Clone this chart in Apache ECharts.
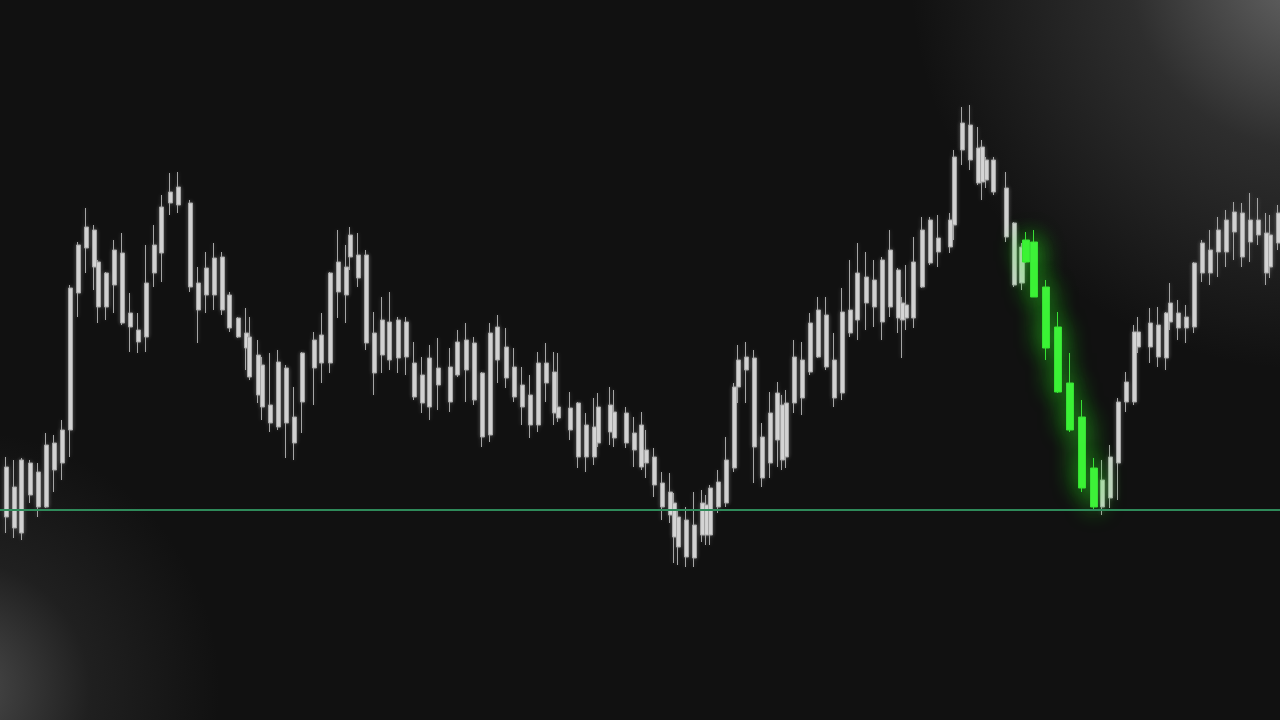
<!DOCTYPE html>
<html>
<head>
<meta charset="utf-8">
<script src="https://cdn.jsdelivr.net/npm/echarts@6/dist/echarts.min.js"></script>
<style>
html,body{margin:0;padding:0;width:1280px;height:720px;overflow:hidden;}
body{
  background:
    radial-gradient(circle at 1310px -30px, rgba(175,175,175,0.55) 0px, rgba(120,120,120,0.28) 180px, rgba(17,17,17,0) 400px),
    radial-gradient(circle at -40px 690px, rgba(150,150,150,0.45) 0px, rgba(90,90,90,0.2) 130px, rgba(17,17,17,0) 260px),
    #111111;
}
#chart{width:1280px;height:720px;}
</style>
</head>
<body>
<div id="chart"></div>
<script>
// time slots (bar index on a fine time grid)
const slotCount = 320;
const greySlot = [1,3,5,7,9,11,13,15,17,19,21,23,24,26,28,30,32,34,36,38,40,42,44,47,49,51,53,55,57,59,61,62,64,65,67,69,71,73,75,78,80,82,84,86,87,89,91,93,95,97,99,101,103,105,107,109,112,114,116,118,120,122,124,126,128,130,132,134,136,138,139,142,144,146,148,149,152,153,156,158,160,161,163,165,167,168,169,171,173,175,176,177,179,181,183,184,186,188,190,192,194,195,196,198,200,202,204,206,208,210,212,214,216,218,220,222,224,225,226,228,230,232,234,237,238,240,242,244,245,246,248,251,253,255,275,277,279,281,283,284,287,289,291,292,294,296,298,300,302,304,306,308,310,312,314,316,317,319];
const greyOpen  = [203,192,187,225,213,213,250,257,290,427,472,453,413,413,435,397,393,378,383,447,467,517,515,433,410,425,425,410,392,383,372,343,325,313,297,293,297,277,318,352,357,357,428,425,463,442,377,347,365,360,362,363,323,317,313,335,318,345,350,320,283,285,360,342,323,313,295,295,337,307,302,290,263,263,263,277,288,282,277,270,253,257,235,213,205,183,173,163,162,185,185,185,213,217,252,333,350,273,242,257,280,260,263,317,322,348,363,353,322,327,387,400,417,413,398,413,402,400,402,402,433,457,468,473,495,570,560,537,538,540,528,483,435,437,213,222,257,318,318,373,373,363,362,398,392,392,393,447,447,468,468,488,463,478,485,447,453,477];
const greyClose = [253,233,260,257,248,275,277,290,432,475,493,490,458,447,470,467,407,390,437,475,513,528,533,517,437,452,462,463,425,402,387,383,365,355,315,358,352,303,367,380,385,447,458,453,485,465,465,387,400,398,400,398,357,345,362,352,353,378,380,377,347,387,393,373,353,335,325,357,357,348,313,312,317,295,293,313,315,308,307,287,295,270,263,237,228,217,203,200,195,217,215,232,238,260,333,360,363,362,283,307,327,315,317,363,360,397,410,405,360,408,410,447,443,440,460,470,450,417,415,458,490,500,482,500,563,597,595,572,573,560,560,532,497,473,240,263,318,338,388,388,397,395,407,417,407,403,457,477,470,490,500,508,507,500,500,487,485,507];
const greyLow   = [187,182,180,217,203,212,228,240,263,403,447,430,397,400,407,395,368,367,368,433,438,505,507,428,377,407,410,405,388,382,350,340,317,300,288,290,262,260,287,315,337,347,402,397,450,433,370,325,347,350,347,345,320,307,300,310,308,343,318,315,273,278,337,332,318,295,282,288,318,295,298,280,252,248,255,273,275,273,272,253,250,242,223,200,197,157,155,153,153,178,175,175,207,213,248,317,317,237,233,242,253,250,252,307,305,345,362,350,313,320,383,380,390,393,380,403,387,362,390,392,432,455,453,467,480,555,550,535,520,532,525,478,433,430,205,212,220,308,315,367,357,353,350,390,380,377,387,438,435,443,453,460,453,458,475,435,442,470];
const greyHigh  = [263,260,262,260,257,287,285,300,435,478,512,495,460,448,480,487,427,407,475,495,525,547,548,520,453,468,477,468,428,403,412,403,380,363,367,370,355,333,368,388,407,448,490,475,493,487,470,408,423,428,403,403,378,363,375,382,372,390,397,383,348,397,405,392,372,353,345,368,377,368,367,328,318,307,322,327,333,330,313,303,308,290,272,248,247,227,210,213,228,230,225,235,250,283,337,375,378,370,297,328,338,325,330,380,378,407,423,423,387,432,460,477,468,460,463,490,452,423,455,483,503,503,505,507,570,613,615,593,580,563,563,548,498,477,260,275,322,348,395,403,412,413,408,437,420,415,458,480,490,503,510,518,517,527,522,507,505,515];

// highlighted (green) sell-off candles
const greenSlot  = [256,258,261,264,267,270,273];
const greenOpen  = [480,478,433,393,337,303,252];
const greenClose = [458,423,372,328,290,232,213];
const greenLow   = [457,423,360,327,288,228,210];
const greenHigh  = [488,490,440,408,367,320,262];

// support level
const supportLevel = 210;

const categories = [];
for (let i = 0; i < slotCount; i++) categories.push(String(i));

function buildSeriesData(slots, o, c, l, h) {
  const arr = new Array(slotCount).fill('-');
  for (let i = 0; i < slots.length; i++) arr[slots[i]] = [o[i], c[i], l[i], h[i]];
  return arr;
}

const chart = echarts.init(document.getElementById('chart'), null, {renderer: 'canvas'});
chart.setOption({
  backgroundColor: 'transparent',
  animation: false,
  grid: {left: 0, right: 0, top: 0, bottom: 0},
  xAxis: {
    type: 'category', data: categories, boundaryGap: true, show: false
  },
  yAxis: {
    type: 'value', min: 0, max: 720, show: false, splitLine: {show: false}
  },
  series: [
    {
      type: 'candlestick',
      name: 'price',
      barWidth: 4.5,
      data: buildSeriesData(greySlot, greyOpen, greyClose, greyLow, greyHigh),
      itemStyle: {
        color: '#cfcfcf', color0: '#cfcfcf',
        borderColor: '#a5a5a5', borderColor0: '#a5a5a5',
        borderWidth: 1,
        shadowBlur: 4, shadowColor: 'rgba(255,255,255,0.25)'
      },
      markLine: {
        silent: true,
        symbol: ['none', 'none'],
        label: {show: false},
        lineStyle: {color: '#2f8a5a', width: 2, type: 'solid'},
        data: [{yAxis: supportLevel}]
      }
    },
    {
      type: 'candlestick',
      name: 'selloff',
      barWidth: 7,
      data: buildSeriesData(greenSlot, greenOpen, greenClose, greenLow, greenHigh),
      itemStyle: {
        color: '#3ff23a', color0: '#3ff23a',
        borderColor: '#38e035', borderColor0: '#38e035',
        borderWidth: 1,
        shadowBlur: 24, shadowColor: 'rgba(50,255,40,0.9)'
      }
    }
  ]
});
</script>
</body>
</html>
